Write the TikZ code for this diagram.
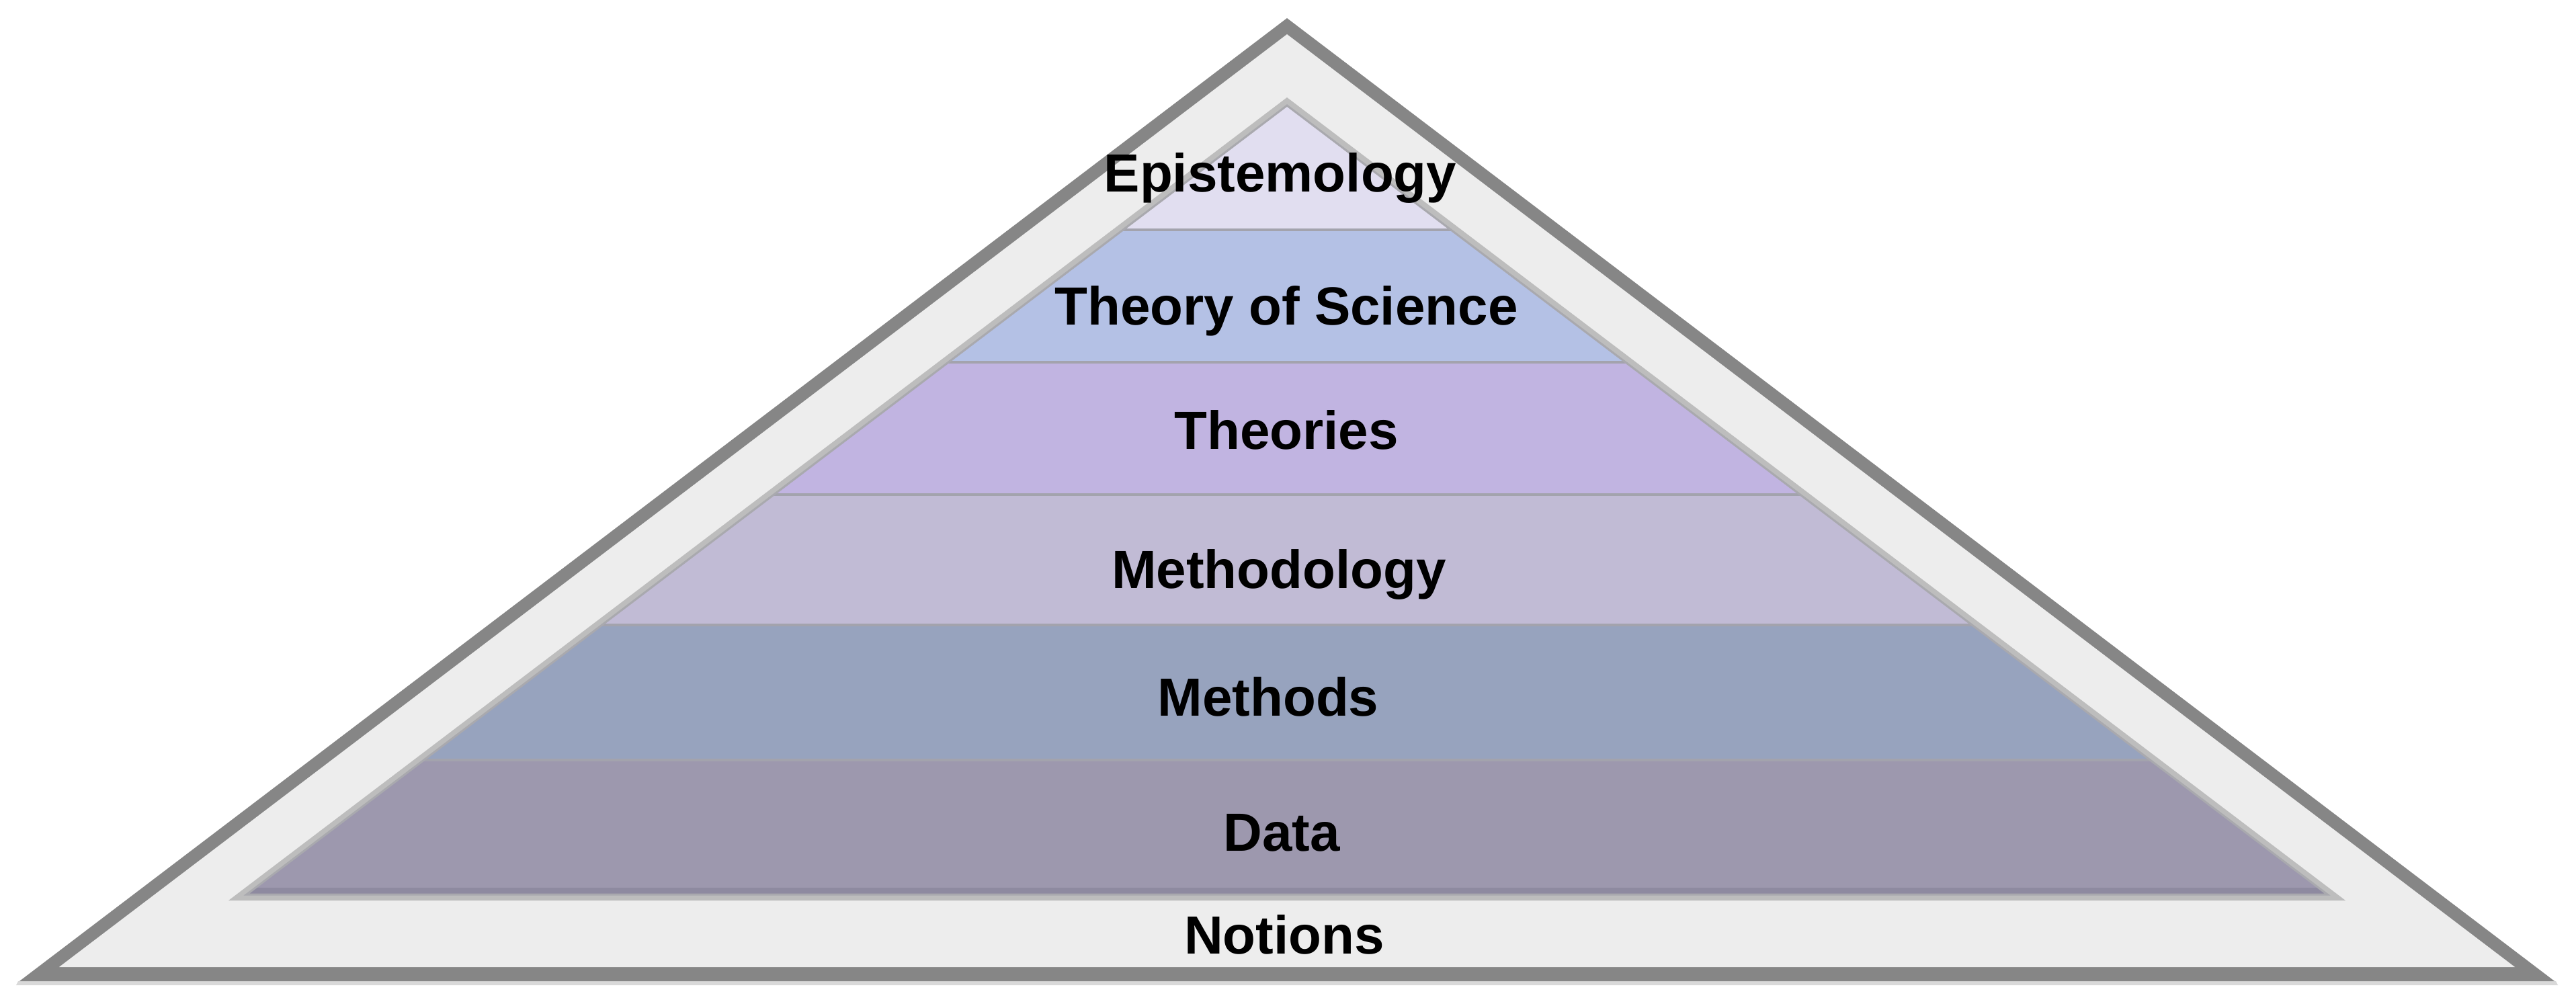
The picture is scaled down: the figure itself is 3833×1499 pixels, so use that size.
\documentclass[tikz,border=0pt]{standalone}
\usepackage{fontspec}
\setmainfont{Liberation Sans}
\definecolor{framec}{HTML}{868686}
\definecolor{framefill}{HTML}{EDEDED}
\definecolor{pborder}{HTML}{BDBDBD}
\definecolor{innerline}{HTML}{A9A9AE}
\definecolor{cEpi}{HTML}{E1DEF0}
\definecolor{cTos}{HTML}{B4C1E5}
\definecolor{cThe}{HTML}{C1B4E1}
\definecolor{cMeth}{HTML}{C1BBD5}
\definecolor{cMet}{HTML}{97A3BE}
\definecolor{cData}{HTML}{9D98AE}
\definecolor{cDataDark}{HTML}{8E8AA0}
\definecolor{sepc}{HTML}{A3A3AD}
\definecolor{shadowc}{HTML}{D9D9D9}
\begin{document}
\begin{tikzpicture}[x=1pt,y=-1pt,
  lbl/.style={font=\fontsize{80}{96}\selectfont\bfseries, text=black, inner sep=0pt, anchor=base},
  sepline/.style={draw=sepc, line width=4pt}]
\useasboundingbox (0,0) rectangle (3833,1499);
\fill[white] (0,0) rectangle (3833,1499);
% outer frame
\fill[shadowc] (27,1460) -- (3803,1460) -- (3806,1466) -- (24,1466) -- cycle;
\fill[framec] (1915,27) -- (29,1460) -- (3801,1460) -- cycle;
\fill[framefill] (1915,51) -- (88,1439) -- (3742,1439) -- cycle;
% pyramid
\fill[pborder] (1915,145) -- (340,1340) -- (3490,1340) -- cycle;
\begin{scope}
  \clip (1915,157) -- (367,1331) -- (3463,1331) -- cycle;
  \fill[cEpi] (0,0) rectangle (3833,342);
  \fill[cTos] (0,342) rectangle (3833,539);
  \fill[cThe] (0,539) rectangle (3833,736);
  \fill[cMeth] (0,736) rectangle (3833,930);
  \fill[cMet] (0,930) rectangle (3833,1131);
  \fill[cData] (0,1131) rectangle (3833,1331);
  \fill[cDataDark] (0,1321) rectangle (3833,1331);
  \draw[sepline] (0,342) -- (3833,342);
  \draw[sepline] (0,539) -- (3833,539);
  \draw[sepline] (0,736) -- (3833,736);
  \draw[sepline] (0,930) -- (3833,930);
  \draw[sepline] (0,1131) -- (3833,1131);
\end{scope}
\draw[innerline, line width=3pt, line join=miter] (1915,157) -- (367,1331) -- (3463,1331) -- cycle;
% labels
\node[lbl] (epi) at (1905,285) {Epistemology};
\node[lbl] (tos) at (1914,483) {Theory of Science};
\node[lbl] (the) at (1914,668) {Theories};
\node[lbl] (meth) at (1903,875) {Methodology};
\node[lbl] (met) at (1887,1065) {Methods};
\node[lbl] (data) at (1907,1266) {Data};
\node[lbl] (not) at (1911,1419) {Notions};
\end{tikzpicture}
\end{document}
